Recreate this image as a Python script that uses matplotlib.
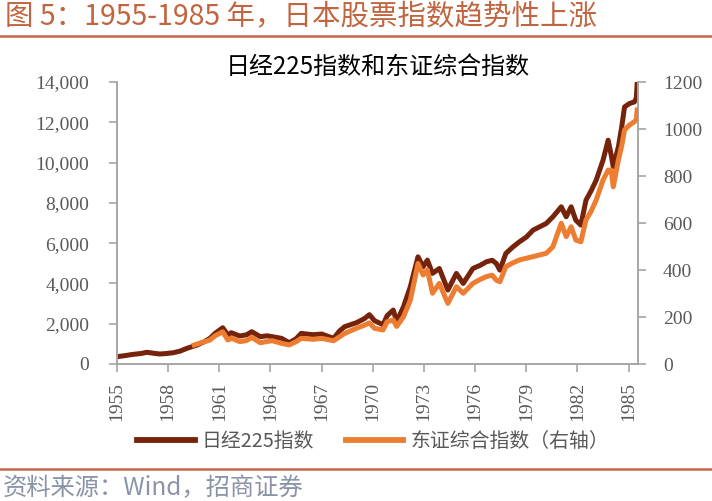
import matplotlib
matplotlib.use("Agg")
import matplotlib.pyplot as plt
from matplotlib.ticker import FuncFormatter, FixedLocator
from matplotlib.lines import Line2D

# ---------------- data ----------------
nk_year = [1955.0, 1955.5, 1955.95, 1956.4, 1956.75, 1957.1, 1957.5, 1957.9, 1958.3, 1958.7,
           1959.1, 1959.7, 1960.1, 1960.45, 1960.75, 1961.2, 1961.5, 1961.7, 1962.2, 1962.6,
           1962.9, 1963.4, 1963.8, 1964.1, 1964.65, 1965.1, 1965.5, 1965.8, 1966.2, 1966.5,
           1967.0, 1967.7, 1968.06, 1968.35, 1969.04, 1969.5, 1969.8, 1970.1, 1970.6, 1970.84,
           1971.2, 1971.4, 1971.8, 1972.2, 1972.4, 1972.65, 1972.95, 1973.2, 1973.5, 1973.9,
           1974.4, 1974.9, 1975.3, 1975.87, 1976.3, 1976.66, 1977.0, 1977.24, 1977.45, 1977.8,
           1978.2, 1978.6, 1979.0, 1979.4, 1980.17, 1980.56, 1981.05, 1981.34, 1981.63, 1981.9,
           1982.2, 1982.5, 1982.8, 1983.1, 1983.5, 1983.8, 1983.98, 1984.1, 1984.4, 1984.6,
           1984.76, 1985.05, 1985.34, 1985.45, 1985.5]
nikkei = [362, 420, 480, 520, 580, 540, 496, 520, 560, 640,
          778, 942, 1100, 1274, 1522, 1800, 1438, 1555, 1389, 1450,
          1604, 1356, 1400, 1356, 1273, 1058, 1250, 1521, 1480, 1455,
          1488, 1273, 1650, 1852, 2050, 2250, 2450, 2150, 1950, 2400,
          2678, 2100, 2843, 3835, 4500, 5322, 4826, 5158, 4497, 4743,
          3670, 4497, 4000, 4743, 4900, 5075, 5150, 4992, 4660, 5489,
          5800, 6068, 6300, 6647, 6977, 7308, 7804, 7308, 7804, 7143,
          6895, 8135, 8600, 9128, 10120, 11110, 10366, 9786, 10780, 11800,
          12762, 12930, 13013, 13200, 13922]

tp_year = [1959.53, 1960.0, 1960.45, 1960.75, 1961.2, 1961.5, 1961.7, 1962.2, 1962.6, 1962.9,
           1963.4, 1963.8, 1964.1, 1964.65, 1965.1, 1965.5, 1965.8, 1966.2, 1966.5, 1967.0,
           1967.7, 1968.06, 1968.35, 1969.04, 1969.5, 1969.8, 1970.1, 1970.6, 1970.84, 1971.2,
           1971.4, 1971.8, 1972.2, 1972.4, 1972.65, 1972.95, 1973.2, 1973.5, 1973.9, 1974.4,
           1974.9, 1975.3, 1975.87, 1976.3, 1976.66, 1977.0, 1977.24, 1977.45, 1977.8, 1978.2,
           1978.6, 1979.0, 1979.4, 1980.17, 1980.56, 1981.05, 1981.34, 1981.63, 1981.9, 1982.2,
           1982.5, 1982.8, 1983.1, 1983.5, 1983.8, 1983.98, 1984.1, 1984.4, 1984.6, 1984.76,
           1985.05, 1985.34, 1985.45, 1985.5]
topix = [80.8, 92, 102, 120, 137, 102, 110, 95, 100, 113,
         90.6, 96, 99, 88, 81, 95, 109, 107, 105, 109,
         99, 116, 130, 152, 165, 175, 152, 145, 180, 187,
         160, 201, 272, 340, 428, 379, 400, 301, 343, 258,
         329, 301, 343, 360, 372, 378, 357, 350, 414, 430,
         443, 450, 457, 471, 499, 599, 542, 584, 528, 520,
         613, 650, 698, 783, 825, 825, 754, 868, 930, 996,
         1017, 1031, 1040, 1081]

x_ticks = [1955, 1958, 1961, 1964, 1967, 1970, 1973, 1976, 1979, 1982, 1985]
left_ticks = [0, 2000, 4000, 6000, 8000, 10000, 12000, 14000]
right_ticks = [0, 200, 400, 600, 800, 1000, 1200]

header = "图 5：1955-1985 年，日本股票指数趋势性上涨"
chart_title = "日经225指数和东证综合指数"
label_nk = "日经225指数"
label_tp = "东证综合指数（右轴）"
source = "资料来源：Wind，招商证券"

# ---------------- style ----------------
CJK = ["Noto Sans CJK SC", "DejaVu Sans"]
SERIF = "Liberation Serif"
BROWN = "#76230B"
ORANGE = "#ED7D31"
SPINE = "#A6A6A6"
TICKTXT = "#595959"
RULE = "#C3684A"

W, H = 712, 501
fig = plt.figure(figsize=(W / 100, H / 100), dpi=100)
ax = fig.add_axes([117 / W, 1 - 364 / H, (638 - 117) / W, (364 - 82) / H])
ax2 = ax.twinx()

ax.plot(nk_year, nikkei, color=BROWN, lw=3.6, solid_joinstyle="round", zorder=2)
ax2.plot(tp_year, topix, color=ORANGE, lw=3.6, solid_joinstyle="round", zorder=3)

ax.set_xlim(1955, 1985.55)
ax.set_ylim(0, 14000)
ax2.set_ylim(0, 1200)

ax.xaxis.set_major_locator(FixedLocator(x_ticks))
ax.yaxis.set_major_locator(FixedLocator(left_ticks))
ax2.yaxis.set_major_locator(FixedLocator(right_ticks))
ax.yaxis.set_major_formatter(FuncFormatter(lambda v, p: f"{v:,.0f}"))
ax2.yaxis.set_major_formatter(FuncFormatter(lambda v, p: f"{v:.0f}"))

for a in (ax, ax2):
    for s in a.spines.values():
        s.set_color(SPINE)
        s.set_linewidth(1.2)
    a.spines["top"].set_visible(False)
    a.set_facecolor("none")

ax.tick_params(axis="y", direction="out", length=6, width=1.2, color=SPINE, pad=14,
               labelsize=14, labelcolor=TICKTXT)
ax.tick_params(axis="x", direction="out", length=6, width=1.2, color=SPINE, pad=7,
               labelsize=14, labelcolor=TICKTXT, labelrotation=90)
ax2.tick_params(axis="y", direction="out", length=6, width=1.2, color=SPINE, pad=12,
                labelsize=14, labelcolor=TICKTXT)
for lab in ax.get_xticklabels() + ax.get_yticklabels() + ax2.get_yticklabels():
    lab.set_fontfamily(SERIF)

# title of chart
fig.text(378 / W, 1 - 67 / H, chart_title, ha="center", va="center", fontsize=17.3,
         family=CJK, color="black")

# header and rules
fig.text(5 / W, 1 - 17 / H, header, ha="left", va="center", fontsize=20.5,
         family=CJK, color="#C0653F")
fig.add_artist(Line2D([0, 1], [1 - 36 / H, 1 - 36 / H], color=RULE, lw=1.8,
                      transform=fig.transFigure))
fig.add_artist(Line2D([0, 1], [1 - 469 / H, 1 - 469 / H], color=RULE, lw=1.8,
                      transform=fig.transFigure))
fig.text(3 / W, 1 - 488 / H, source, ha="left", va="center", fontsize=17.5,
         family=CJK, color="#8A94A6")

# legend
handles = [Line2D([], [], color=BROWN, lw=4.2), Line2D([], [], color=ORANGE, lw=4.2)]
leg = fig.legend(handles, [label_nk, label_tp], loc="center", ncol=2, frameon=False,
                 bbox_to_anchor=(373 / W, 1 - 441 / H), handlelength=2.9,
                 handletextpad=0.35, columnspacing=1.6,
                 prop={"family": CJK, "size": 14.3})
for t in leg.get_texts():
    t.set_color(TICKTXT)

fig.savefig("out.png", dpi=100)
